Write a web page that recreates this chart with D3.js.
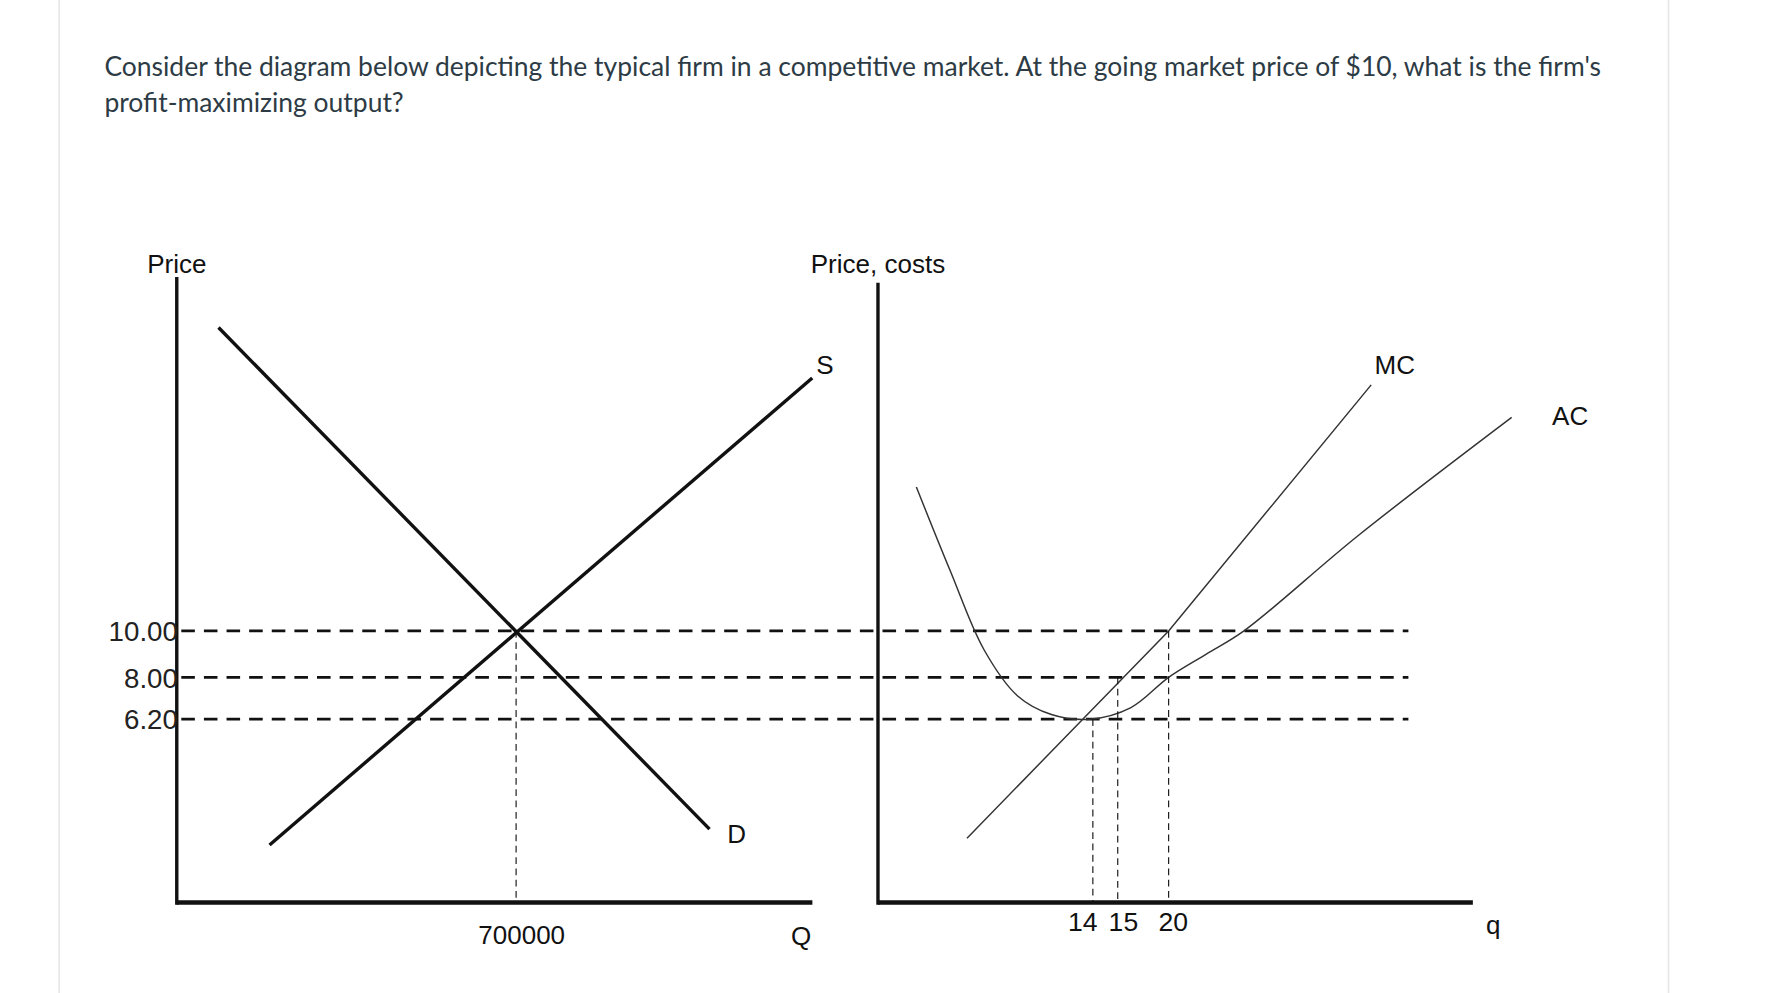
<!DOCTYPE html>
<html><head><meta charset="utf-8">
<style>body{margin:0;background:#fff;}</style>
</head><body>
<svg id="chart" width="1765" height="993" viewBox="0 0 1560 878"></svg>
<script src="https://d3js.org/d3.v7.min.js"></script>
<script>
// price levels shown on the left axis
var priceTicks = [10.00, 8.00, 6.20];
var priceLabels = ["10.00", "8.00", "6.20"];
// market demand and supply (Q, price)
var demand = [[82000, 23.07], [1101700, 1.46]];
var supply = [[188000, 0.78], [1315000, 20.9]];
var marketQ = 700000;
// firm curves (q, price)
var mc = [[5.8, 1.07], [20, 10], [39.9, 20.6]];
var ac = [[2.5, 16.2], [4.7, 12.6], [6.9, 9.2], [9.1, 7.2], [11.3, 6.4], [13.8, 6.2], [16.3, 6.7], [20, 8.0], [23.7, 9.0], [27.4, 10], [38.6, 14.1], [53.7, 19.2]];
var firmTicks = [14, 15, 20];
var firmTickPrice = [6.2, 8.0, 10.0];

var svg = d3.select("#chart");

// card
svg.append("rect").attr("x", 52).attr("y", -10).attr("width", 1423).attr("height", 900)
  .attr("fill", "#fff").attr("stroke", "#e8e8e8").attr("stroke-width", 1.5);

var q = svg.append("text").attr("font-family", "Lato, 'Open Sans', sans-serif").attr("font-size", 23.4).attr("fill", "#2d3b45");
q.append("tspan").attr("x", 92).attr("y", 67).text("Consider the diagram below depicting the typical firm in a competitive market. At the going market price of $10, what is the firm's");
q.append("tspan").attr("x", 92).attr("y", 99).text("profit-maximizing output?");

var y = d3.scaleLinear().domain([-1.7, 25]).range([798, 250]);
var xL = d3.scaleLinear().domain([0, 1320000]).range([158, 720]);
var xR = d3.scaleLinear().domain([0, 14, 15, 20]).range([776, 966, 988, 1033]);

var font = "'Liberation Sans', Arial, sans-serif";
function label(x, yy, t, anchor) {
  svg.append("text").attr("x", x).attr("y", yy).attr("font-family", font).attr("font-size", 23)
    .attr("fill", "#111").attr("text-anchor", anchor || "middle").text(t);
}

// dashed price lines
svg.selectAll(".pl").data(priceTicks).enter().append("line")
  .attr("x1", 160).attr("x2", 1245)
  .attr("y1", d => y(d)).attr("y2", d => y(d))
  .attr("stroke", "#111").attr("stroke-width", 2.5).attr("stroke-dasharray", "12,8");

// left axes
svg.append("line").attr("x1", 156).attr("x2", 156).attr("y1", 245).attr("y2", 800).attr("stroke", "#111").attr("stroke-width", 3);
svg.append("line").attr("x1", 156).attr("x2", 718).attr("y1", 798).attr("y2", 798).attr("stroke", "#111").attr("stroke-width", 4);
svg.selectAll(".pt").data(priceTicks).enter().append("text")
  .attr("x", 157).attr("y", d => y(d) + 9).attr("text-anchor", "end")
  .attr("font-family", font).attr("font-size", 24.5).attr("fill", "#222")
  .text((d, i) => priceLabels[i]);

var lineL = d3.line().x(d => xL(d[0])).y(d => y(d[1]));
[demand, supply].forEach(function (s) {
  svg.append("path").attr("d", lineL(s)).attr("fill", "none").attr("stroke", "#111").attr("stroke-width", 3);
});
svg.append("line").attr("x1", xL(marketQ)).attr("x2", xL(marketQ)).attr("y1", y(10)).attr("y2", 798)
  .attr("stroke", "#111").attr("stroke-width", 1).attr("stroke-dasharray", "6,4");

label(156, 241, "Price");
label(461, 835, String(marketQ));
label(651, 745, "D");
label(729, 331, "S");
label(708, 836, "Q");

// right panel
svg.append("line").attr("x1", 776).attr("x2", 776).attr("y1", 250).attr("y2", 800).attr("stroke", "#111").attr("stroke-width", 3);
svg.append("line").attr("x1", 776).attr("x2", 1302).attr("y1", 798).attr("y2", 798).attr("stroke", "#111").attr("stroke-width", 4);

var lineR = d3.line().x(d => xR(d[0])).y(d => y(d[1]));
svg.append("path").attr("d", lineR(mc)).attr("fill", "none").attr("stroke", "#333").attr("stroke-width", 1.3);
svg.append("path").attr("d", lineR.curve(d3.curveCatmullRom)(ac)).attr("fill", "none").attr("stroke", "#333").attr("stroke-width", 1.3);

svg.selectAll(".fv").data(firmTicks).enter().append("line")
  .attr("x1", d => xR(d)).attr("x2", d => xR(d))
  .attr("y1", (d, i) => y(firmTickPrice[i])).attr("y2", 798)
  .attr("stroke", "#111").attr("stroke-width", 1).attr("stroke-dasharray", "6,4");
svg.selectAll(".ft").data(firmTicks).enter().append("text")
  .attr("x", (d, i) => xR(d) + [-9, 5, 4][i]).attr("y", 823).attr("text-anchor", "middle")
  .attr("font-family", font).attr("font-size", 23.5).attr("fill", "#111").text(d => d);

label(776, 241, "Price, costs");
label(1233, 331, "MC");
label(1388, 376, "AC");
label(1320, 826, "q");
</script>
</body></html>
